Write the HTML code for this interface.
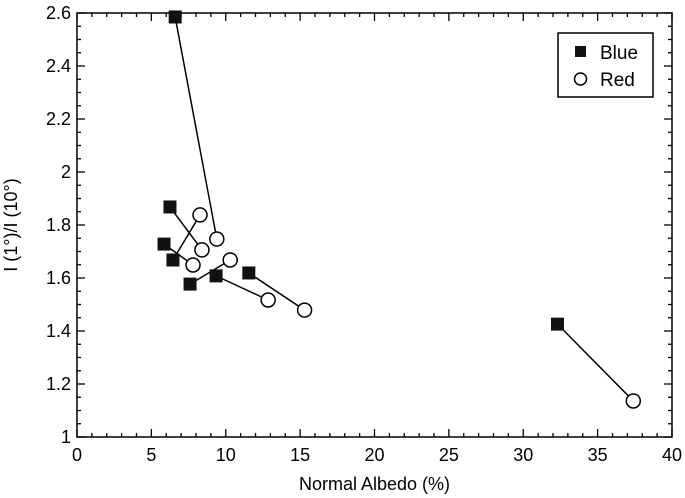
<!DOCTYPE html>
<html><head><meta charset="utf-8"><style>
body{margin:0;background:#fff}
svg{display:block;font-family:"Liberation Sans",Arial,sans-serif}
</style></head><body>
<svg id="chart" width="685" height="498" viewBox="0 0 685 498" xmlns="http://www.w3.org/2000/svg"></svg>
<script>
const blueX=[6.6,6.25,6.45,5.85,7.6,9.35,11.55,32.3];
const blueY=[2.585,1.868,1.668,1.728,1.577,1.608,1.619,1.426];
const redX=[9.4,8.4,8.27,7.8,10.3,12.85,15.3,37.4];
const redY=[1.747,1.706,1.838,1.649,1.668,1.517,1.479,1.136];
const xTicks=[0,5,10,15,20,25,30,35,40];
const yTicks=[1,1.2,1.4,1.6,1.8,2,2.2,2.4,2.6];
const L=77,R=672,T=13,B=437;
const sx=v=>L+(v-0)/40*(R-L);
const sy=v=>B-(v-1)/1.6*(B-T);
const svg=document.getElementById('chart');
const NS='http://www.w3.org/2000/svg';
function mk(t,a,p){const e=document.createElementNS(NS,t);for(const k in a)e.setAttribute(k,a[k]);(p||svg).appendChild(e);return e;}
const tg=mk('g',{stroke:'#000','stroke-width':1.3});


for(let i=0;i<=40;i++){const x=sx(i),len=i%5===0?8:4;
 mk('line',{x1:x,x2:x,y1:B,y2:B-len},tg);mk('line',{x1:x,x2:x,y1:T,y2:T+len},tg);}
for(let i=0;i<=32;i++){const v=1+i*0.05,y=sy(v),len=i%4===0?8:4;
 mk('line',{x1:L,x2:L+len,y1:y,y2:y},tg);mk('line',{x1:R,x2:R-len,y1:y,y2:y},tg);}
const fr=mk('rect',{x:L,y:T,width:R-L,height:B-T,fill:'none',stroke:'#000','stroke-width':1.5});


xTicks.forEach(v=>{const t=mk('text',{x:sx(v),y:B+24,'text-anchor':'middle','font-size':18});t.textContent=v;
 
 });
yTicks.forEach(v=>{const t=mk('text',{x:L-6,y:sy(v)+6,'text-anchor':'end','font-size':18});t.textContent=String(v);
 
 });
const xt=mk('text',{x:(L+R)/2,y:490,'text-anchor':'middle','font-size':18});xt.textContent='Normal Albedo (%)';


const yt=mk('text',{x:0,y:0,'text-anchor':'middle','font-size':18,transform:`translate(17,${(T+B)/2}) rotate(-90)`});yt.textContent='I (1°)/I (10°)';


for(let i=0;i<blueX.length;i++){
 const ln=mk('line',{x1:sx(blueX[i]),y1:sy(blueY[i]),x2:sx(redX[i]),y2:sy(redY[i]),stroke:'#000','stroke-width':1.5});
 
 
}
for(let i=0;i<blueX.length;i++){
 const s=mk('rect',{x:sx(blueX[i])-6.5,y:sy(blueY[i])-6.5,width:13,height:13,fill:'#111'});
 
 
 const c=mk('circle',{cx:sx(redX[i]),cy:sy(redY[i]),r:7,fill:'#fff',stroke:'#000','stroke-width':1.5});
 
 
}
const lg=mk('g',{});


mk('rect',{x:558,y:33,width:95,height:64,fill:'#fff',stroke:'#000','stroke-width':1.5},lg);
mk('rect',{x:575,y:46,width:11,height:11,fill:'#111'},lg);
mk('circle',{cx:580.5,cy:79,r:6,fill:'#fff',stroke:'#000','stroke-width':1.5},lg);
const t1=mk('text',{x:600,y:59,'font-size':19},lg);t1.textContent='Blue';


const t2=mk('text',{x:600,y:86,'font-size':19},lg);t2.textContent='Red';


</script>
</body></html>
